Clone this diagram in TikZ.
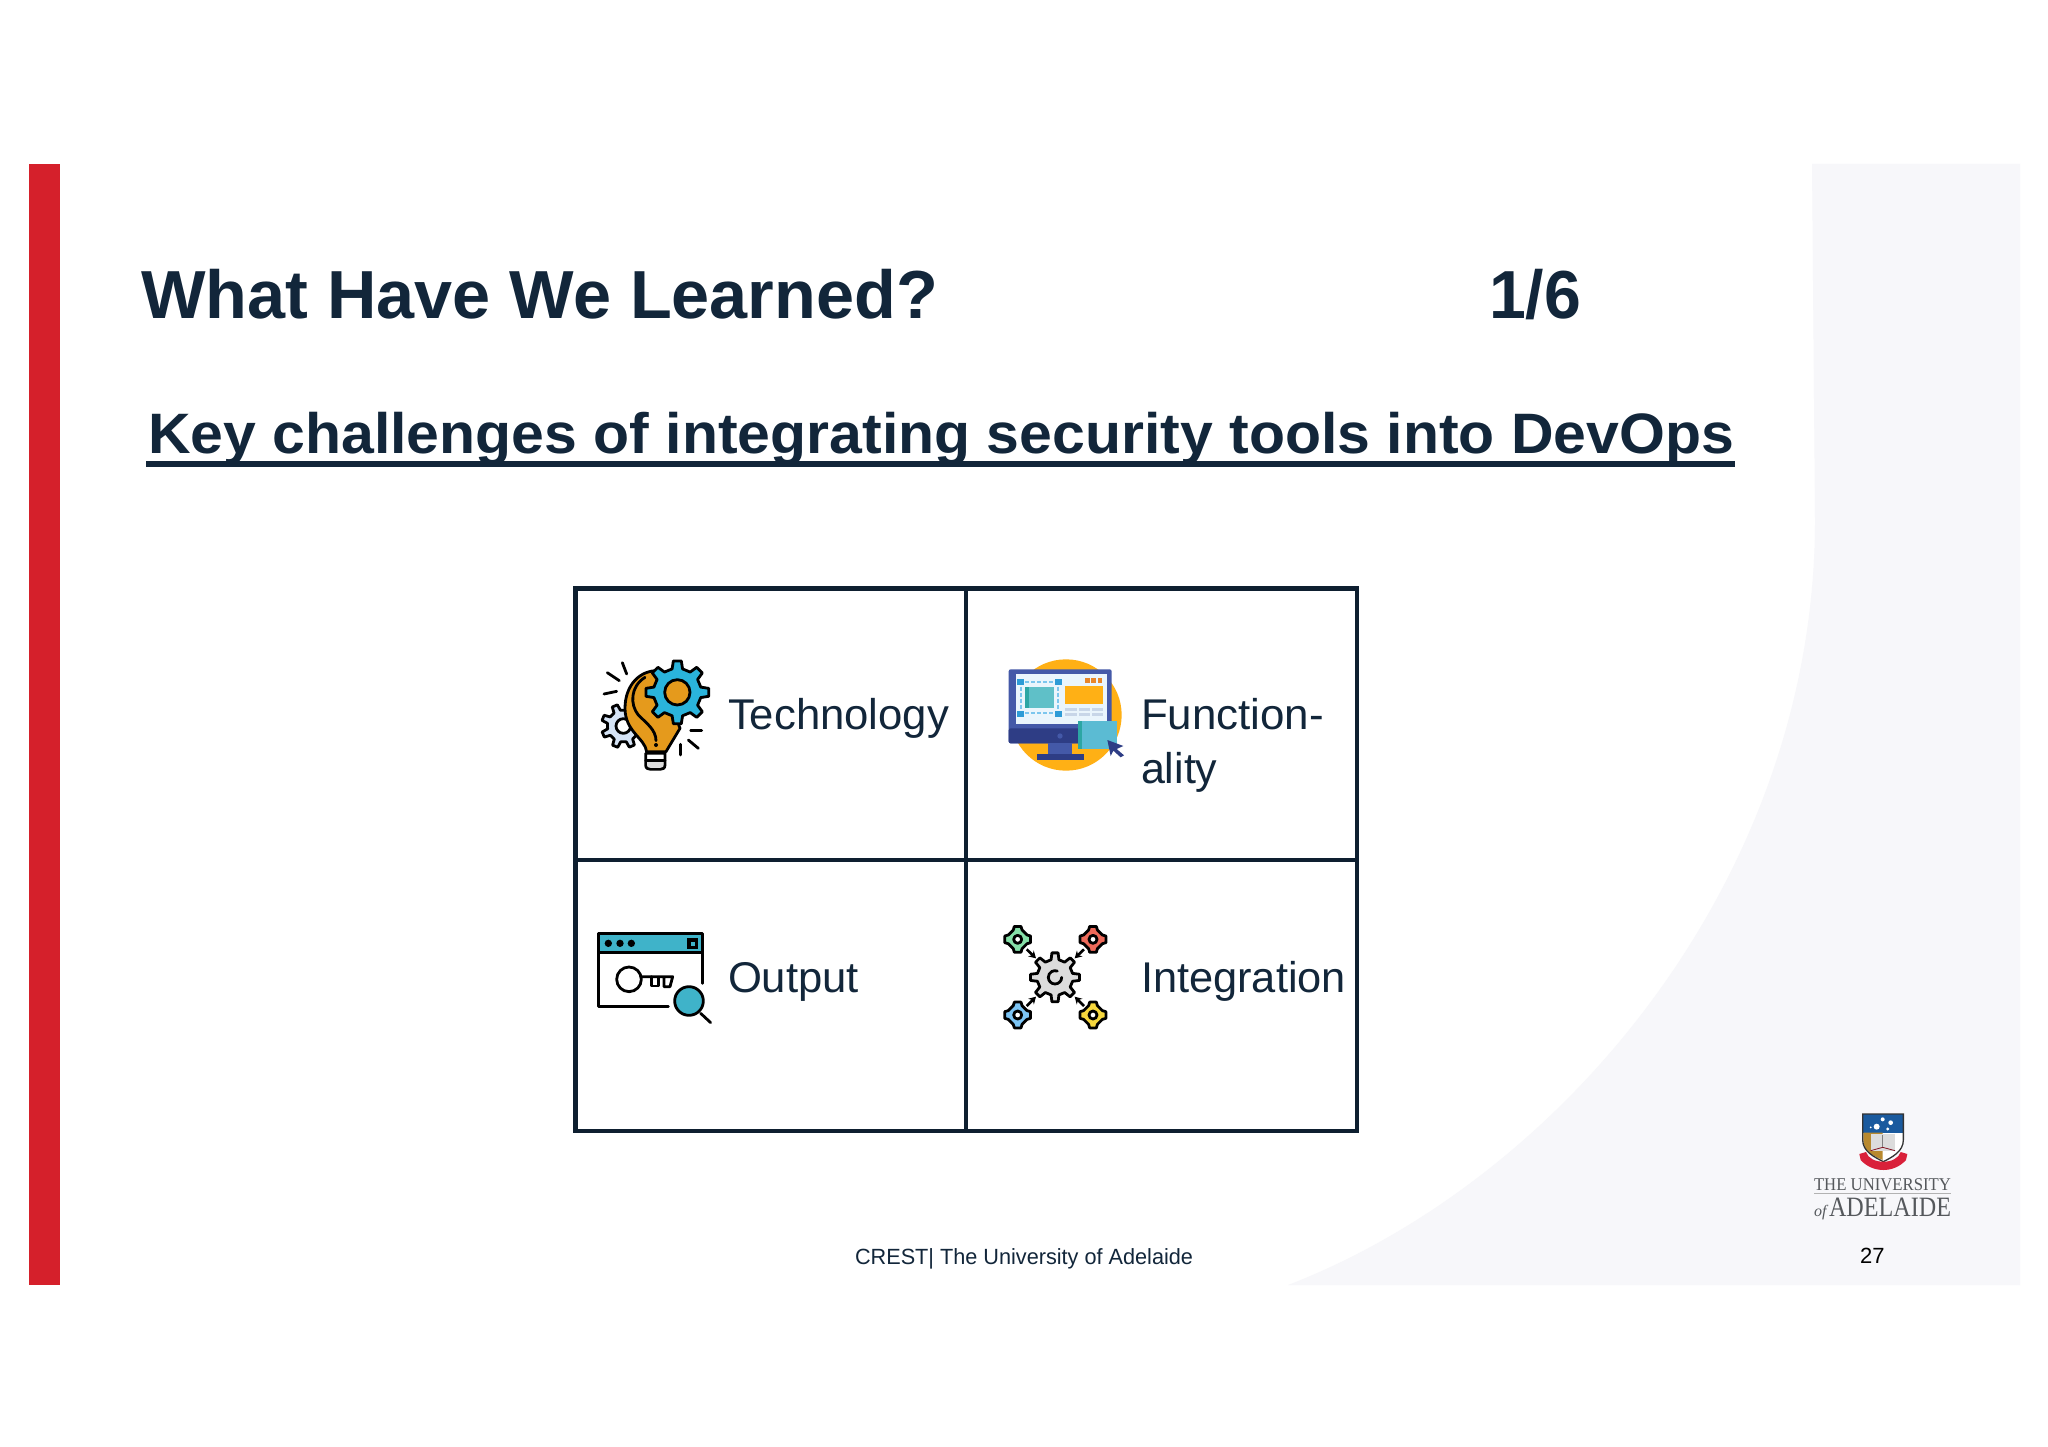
\documentclass[tikz,border=0pt]{standalone}
\usepackage{graphicx}
\usepackage{fontspec}
\setmainfont{Liberation Sans}
\newfontfamily\logoserif{Liberation Serif}
\usetikzlibrary{arrows.meta}
\definecolor{navy}{HTML}{12263A}
\definecolor{tableline}{HTML}{0E1F30}
\definecolor{redbar}{HTML}{D5202B}
\definecolor{panel}{HTML}{F7F7FA}
\definecolor{bulb}{HTML}{E59A1C}
\definecolor{cogblue}{HTML}{2AB4DC}
\definecolor{coglight}{HTML}{D5E3F5}
\definecolor{sun}{HTML}{FFB015}
\definecolor{mon}{HTML}{4459A8}
\definecolor{mondark}{HTML}{2E3D85}
\definecolor{teal}{HTML}{5BBBD3}
\definecolor{tealdark}{HTML}{2CA6A4}
\definecolor{keyteal}{HTML}{3FB3C9}
\definecolor{logotext}{HTML}{55585C}
\definecolor{screen}{HTML}{EAF5FC}
\definecolor{handle}{HTML}{2E9BD6}
\definecolor{dashblue}{HTML}{7CC6EE}
\definecolor{rowgrey}{HTML}{C8D6E8}
\definecolor{tabs}{HTML}{E8862A}
\definecolor{selgreen}{HTML}{5FC0C8}
\definecolor{gearmid}{HTML}{DCDCDC}
\definecolor{g1}{HTML}{86E0A8}
\definecolor{g2}{HTML}{EE6A5A}
\definecolor{g3}{HTML}{7CC4F4}
\definecolor{g4}{HTML}{F5D63D}
\definecolor{shieldblue}{HTML}{1A5A9E}
\definecolor{shieldgold}{HTML}{B8892E}
\definecolor{ribbon}{HTML}{D9203A}
\newcommand{\fitw}[2]{\resizebox{#1pt}{\height}{#2}}
\newcommand{\cog}[7]{%
  \begin{scope}[shift={(#1,#2)}]
    \pgfmathsetmacro\cogstep{360/#5}
    \path[draw=black,fill=#7,line width=2.8pt,line join=round]
      ({#6-.28*\cogstep}:#4)
      \foreach \k in {1,...,#5}{
        -- ({#6+(\k-1)*\cogstep-.16*\cogstep}:#3)
        -- ({#6+(\k-1)*\cogstep+.16*\cogstep}:#3)
        -- ({#6+(\k-1)*\cogstep+.28*\cogstep}:#4)
        -- ({#6+\k*\cogstep-.28*\cogstep}:#4)
      } -- cycle;
  \end{scope}}
\tikzset{
  x=1pt,y=-1pt,
  txt/.style={anchor=base west,inner sep=0pt,outer sep=0pt,text=navy},
  cell/.style={txt,font=\fontsize{43}{54}\selectfont},
  ink/.style={draw=black,line width=2.8pt,line cap=round,line join=round},
  zoomed/.style={x=.33333pt,y=-.33333pt}
}
\begin{document}
\begin{tikzpicture}
\useasboundingbox (0,0) rectangle (2048,1447);
\fill[white] (0,0) rectangle (2048,1447);
% side panel and bar
\fill[panel] (1812,164) -- (2020,164) -- (2020,1285) -- (1288,1285)
  .. controls (1560,1180) and (1815,880) .. (1815,520) -- cycle;
\fill[redbar] (29,164) rectangle (60,1285);
% headings
\node[txt,font=\fontsize{68}{80}\bfseries\selectfont] (title) at (141,319) {\fitw{797}{What Have We Learned?}};
\node[txt,font=\fontsize{68}{80}\bfseries\selectfont] (page) at (1489,319) {\fitw{92}{1/6}};
\node[txt,font=\fontsize{57}{68}\bfseries\selectfont] (sub) at (148,453) {\fitw{1586}{Key challenges of integrating security tools into DevOps}};
\fill[navy] (146,460.5) rectangle (1735,467);
% table
\draw[tableline,line width=4.5pt] (575.5,588.5) rectangle (1357,1131);
\draw[tableline,line width=4.5pt] (966,588.5) -- (966,1131);
\draw[tableline,line width=4pt] (575.5,859.5) -- (1357,859.5);
\node[cell] (tech) at (728,729) {\fitw{221}{Technology}};
\node[cell,align=left] (func) at (1141,783) {\fitw{183}{Function-}\\ality};
\node[cell] (out) at (728,992) {\fitw{131}{Output}};
\node[cell] (integ) at (1141,992) {\fitw{205}{Integration}};
% footer
\node[txt,font=\fontsize{22}{26}\selectfont] (foot) at (855,1264) {\fitw{338}{CREST| The University of Adelaide}};
\node[txt,font=\fontsize{22}{26}\selectfont,text=black] (num) at (1860,1263) {27};
% bulb icon
\begin{scope}[shift={(580,650)},zoomed]
  \cog{130}{228}{66}{48}{8}{22}{coglight}
  \filldraw[ink,fill=white] (130,228) circle (22);
  \path[ink,fill=bulb] (200,305) .. controls (195,265) and (135,245) .. (135,175)
     .. controls (135,105) and (180,60) .. (235,62) -- (300,235) -- (258,305) -- cycle;
  \cog{292}{127}{95}{72}{8}{0}{cogblue}
  \filldraw[ink,fill=bulb] (292,127) circle (38);
  \draw[ink] (195,82) .. controls (150,110) and (150,165) .. (175,195) .. controls (200,220) and (228,240) .. (228,272);
  \fill (228,285) circle (6);
  \draw[ink,fill=white] (197,310) -- (255,310) -- (255,345) .. controls (255,355) and (248,358) .. (240,358) -- (212,358) .. controls (204,358) and (197,355) .. (197,345) -- cycle;
  \fill[gearmid] (203,336) rectangle (249,352);
  \draw[ink] (197,332) -- (255,332);
  \draw[ink] (127,38) -- (140,72);
  \draw[ink] (82,68) -- (118,92);
  \draw[ink] (72,132) -- (110,124);
  \draw[ink] (332,241) -- (365,241);
  \draw[ink] (325,270) -- (355,295);
  \draw[ink] (302,283) -- (302,315);
\end{scope}
% monitor icon
\begin{scope}[shift={(990,650)},zoomed]
  \fill[sun] (228,195) circle (167);
  \fill[mon,rounded corners=2pt] (56,58) rectangle (365,280);
  \fill[mondark,rounded corners=2pt] (56,235) rectangle (365,280);
  \fill[mon] (175,280) rectangle (245,312);
  \fill[mondark] (140,312) rectangle (282,330);
  \fill[mon] (210,258) circle (8);
  \fill[screen] (78,73) rectangle (352,222);
  \fill[selgreen] (105,112) rectangle (192,175);
  \fill[tealdark] (105,112) rectangle (118,175);
  \foreach \hx/\hy in {82/87,195/87,82/182,195/182}{\fill[handle] (\hx,\hy) rectangle ++(20,18);}
  \draw[dashblue,line width=2.2pt,dash pattern=on 4pt off 2pt] (106,96) -- (192,96) (106,190) -- (192,190) (92,110) -- (92,180) (205,110) -- (205,180);
  \fill[sun] (224,108) rectangle (338,163);
  \foreach \sx in {286,304,323}{\fill[tabs] (\sx,85) rectangle ++(14,14);}
  \foreach \ry in {178,194}{\foreach \rx/\rw in {224/38,268/32,305/35}{\fill[rowgrey] (\rx,\ry-4) rectangle ++(\rw,8);}}
  \fill[teal] (265,212) rectangle (380,297);
  \fill[tealdark] (265,212) rectangle (277,297);
  \fill[mondark] (352,270) -- (400,288) -- (380,297) -- (402,316) -- (392,322) -- (370,302) -- (362,318) -- cycle;
\end{scope}
% key icon
\begin{scope}[shift={(590,920)},zoomed]
  \filldraw[ink,fill=keyteal] (25,40) rectangle (338,97);
  \draw[ink] (338,97) -- (338,190);
  \draw[ink] (25,97) -- (25,260) -- (235,260);
  \foreach \dx in {55,90,124}{\fill (\dx,70) circle (11);}
  \fill (292,55) rectangle (325,87);
  \fill[keyteal] (302,65) rectangle (315,77);
  \draw[ink] (117,178) circle (37);
  \draw[ink] (152,170) -- (248,170) -- (240,200) -- (222,200) -- (222,172);
  \draw[ink] (185,170) -- (185,198) -- (205,198) -- (205,172);
  \filldraw[ink,fill=keyteal] (297,243) circle (43);
  \draw[ink] (332,280) -- (362,308);
\end{scope}
% integration icon
\begin{scope}[shift={(1000,920)},zoomed]
  \cog{165}{172}{74}{54}{8}{0}{gearmid}
  \draw[ink] (185,172) arc[start angle=0,end angle=290,radius=20];
  \foreach \gx/\gy/\gc in {53/58/g1,279/58/g2,53/285/g3,279/285/g4}{
    \cog{\gx}{\gy}{40}{31}{4}{0}{\gc}
    \filldraw[ink,fill=white] (\gx,\gy) circle (12);
  }
  \foreach \ax/\ay/\bx/\by in {80/88/108/115,252/88/224/115,80/258/108/230,252/258/224/230}{
    \draw[line width=2.6pt,-{Stealth[length=7pt,width=8pt]}] (\ax,\ay) -- (\bx,\by);
  }
\end{scope}
% logo
\begin{scope}[shift={(1820,1110)},zoomed]
  \path[fill=white] (128,12) -- (250,12) -- (250,90) .. controls (250,125) and (215,142) .. (190,155) .. controls (165,142) and (128,125) .. (128,90) -- cycle;
  \fill[shieldblue] (128,12) rectangle (250,68);
  \fill[shieldgold] (130,68) -- (188,68) -- (188,150) .. controls (165,140) and (130,125) .. (130,90) -- cycle;
  \foreach \sx/\sy/\sr in {170/50/9,188/28/6,212/38/7,203/57/5,152/52/3}{\fill[white] (\sx,\sy) circle (\sr);}
  \fill[gearmid] (152,72) rectangle (225,122);
  \draw[ribbon!60!black,line width=.8pt] (152,122) -- (188,112) -- (225,122);
  \draw[gray,line width=.7pt] (188,75) -- (188,112);
  \draw[black!80,line width=1.3pt] (128,12) -- (250,12) -- (250,90) .. controls (250,125) and (215,142) .. (190,155) .. controls (165,142) and (128,125) .. (128,90) -- cycle;
  \fill[ribbon] (118,132) -- (138,126) .. controls (150,165) and (230,165) .. (242,126) -- (262,132) -- (258,150) .. controls (240,170) and (215,180) .. (190,180) .. controls (165,180) and (140,170) .. (122,150) -- cycle;
\end{scope}
\node[txt,text=logotext,font=\logoserif\fontsize{18}{20}\selectfont] (uni) at (1814,1190) {\fitw{137}{THE UNIVERSITY}};
\draw[gray!60,line width=.6pt] (1814,1193.5) -- (1951,1193.5);
\node[txt,text=logotext,font=\logoserif\itshape\fontsize{16}{20}\selectfont] (of) at (1814,1216) {of};
\node[txt,text=logotext,font=\logoserif\fontsize{28}{30}\selectfont] (adel) at (1829,1216) {\fitw{122}{ADELAIDE}};
\end{tikzpicture}
\end{document}
